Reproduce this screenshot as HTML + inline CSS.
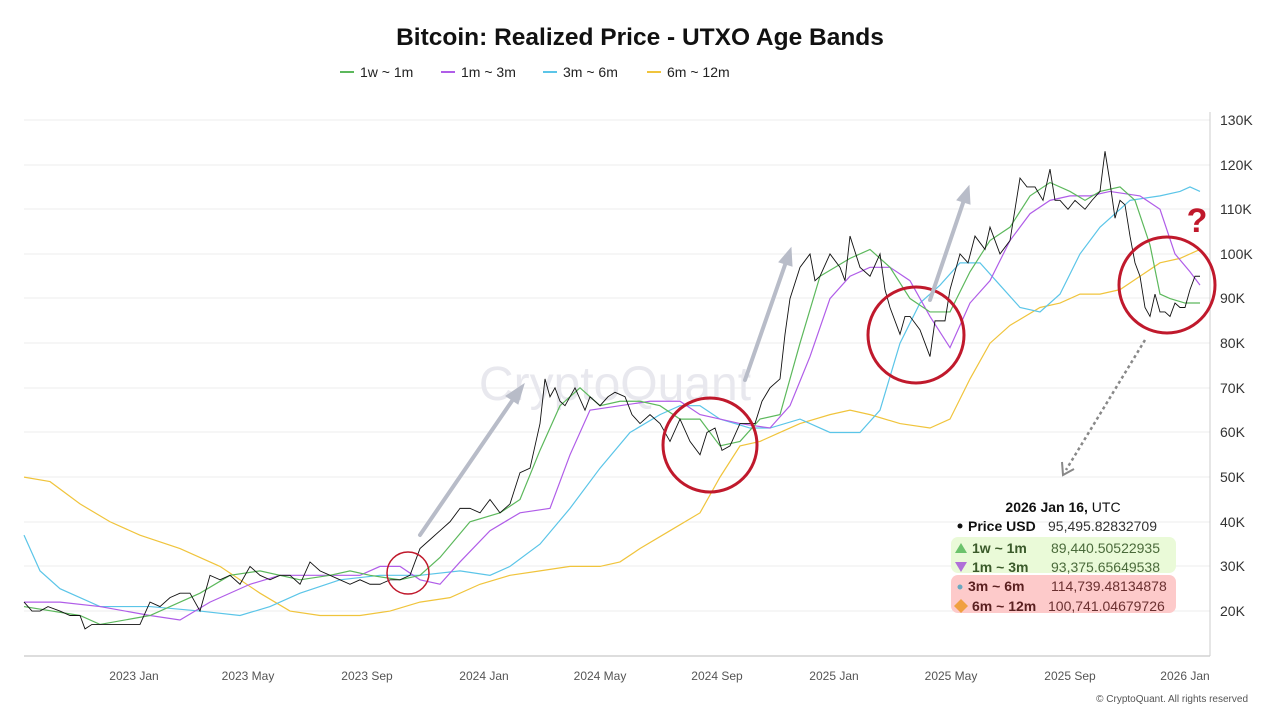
<!DOCTYPE html>
<html><head><meta charset="utf-8"><style>
body{margin:0;width:1280px;height:720px;background:#fff;overflow:hidden;font-family:"Liberation Sans",sans-serif}
</style></head><body>
<svg width="1280" height="720" xmlns="http://www.w3.org/2000/svg" font-family="Liberation Sans, sans-serif">
<text x="640" y="45" text-anchor="middle" font-size="24.5" font-weight="bold" fill="#111">Bitcoin: Realized Price - UTXO Age Bands</text>
<g font-size="14" fill="#222">
<line x1="340" y1="72" x2="354" y2="72" stroke="#5cb85c" stroke-width="2"/><text x="360" y="77">1w ~ 1m</text>
<line x1="441" y1="72" x2="455" y2="72" stroke="#b05de8" stroke-width="2"/><text x="461" y="77">1m ~ 3m</text>
<line x1="543" y1="72" x2="557" y2="72" stroke="#5bc5e8" stroke-width="2"/><text x="563" y="77">3m ~ 6m</text>
<line x1="647" y1="72" x2="661" y2="72" stroke="#f0c43c" stroke-width="2"/><text x="667" y="77">6m ~ 12m</text>
</g>
<g stroke="#eee" stroke-width="1">
<line x1="24" y1="120" x2="1210" y2="120"/><line x1="24" y1="165" x2="1210" y2="165"/><line x1="24" y1="209" x2="1210" y2="209"/><line x1="24" y1="254" x2="1210" y2="254"/><line x1="24" y1="298" x2="1210" y2="298"/><line x1="24" y1="343" x2="1210" y2="343"/><line x1="24" y1="388" x2="1210" y2="388"/><line x1="24" y1="432" x2="1210" y2="432"/><line x1="24" y1="477" x2="1210" y2="477"/><line x1="24" y1="522" x2="1210" y2="522"/><line x1="24" y1="566" x2="1210" y2="566"/><line x1="24" y1="611" x2="1210" y2="611"/>
</g>
<line x1="24" y1="656" x2="1210" y2="656" stroke="#bbb"/>
<line x1="1210" y1="112" x2="1210" y2="656" stroke="#ccc"/>
<g font-size="14" fill="#333">
<text x="1220" y="125">130K</text><text x="1220" y="170">120K</text><text x="1220" y="214">110K</text><text x="1220" y="259">100K</text><text x="1220" y="303">90K</text><text x="1220" y="348">80K</text><text x="1220" y="393">70K</text><text x="1220" y="437">60K</text><text x="1220" y="482">50K</text><text x="1220" y="527">40K</text><text x="1220" y="571">30K</text><text x="1220" y="616">20K</text>
</g>
<g font-size="12" fill="#555" text-anchor="middle">
<text x="134" y="680">2023 Jan</text><text x="248" y="680">2023 May</text><text x="367" y="680">2023 Sep</text><text x="484" y="680">2024 Jan</text><text x="600" y="680">2024 May</text><text x="717" y="680">2024 Sep</text><text x="834" y="680">2025 Jan</text><text x="951" y="680">2025 May</text><text x="1070" y="680">2025 Sep</text><text x="1185" y="680">2026 Jan</text>
</g>
<text x="615" y="400" text-anchor="middle" font-size="48" fill="#e8e8ee">CryptoQuant</text>
<g transform="matrix(1 0 0 -4.464 0 700.32)" fill="none" stroke-width="1.2">
<polyline vector-effect="non-scaling-stroke" stroke="#f0c43c" points="24,50 50,49 80,44 110,40 140,37 180,34 220,30 260,24 290,20 320,19 360,19 390,20 420,22 450,23 480,26 510,28 540,29 570,30 600,30 620,31 640,34 670,38 700,42 720,50 740,57 760,58 780,60 800,62 830,64 850,65 870,64 900,62 930,61 950,63 970,72 990,80 1010,84 1040,88 1060,89 1080,91 1100,91 1120,92 1140,95 1160,98 1180,99 1200,101"/>
<polyline vector-effect="non-scaling-stroke" stroke="#5bc5e8" points="24,37 40,29 60,25 100,21 150,21 200,20 240,19 270,21 300,24 340,27 380,28 420,28 460,29 490,28 510,30 540,35 570,43 600,52 630,60 660,64 680,66 700,66 720,63 750,61 770,61 800,63 830,60 860,60 880,65 900,80 920,89 940,93 960,98 980,98 1000,93 1020,88 1040,87 1060,91 1080,100 1100,106 1130,112 1160,113 1180,114 1190,115 1200,114"/>
<polyline vector-effect="non-scaling-stroke" stroke="#b05de8" points="24,22 60,22 100,21 150,19 180,18 210,22 250,26 280,28 320,28 360,28 380,30 400,30 420,27 440,26 460,31 490,38 520,42 550,43 570,55 590,65 620,66 650,67 680,67 700,64 720,63 740,62 770,61 790,66 810,77 830,90 850,95 870,97 890,97 910,94 930,86 950,79 970,89 990,94 1010,103 1030,109 1050,112 1070,113 1090,113 1110,114 1140,113 1160,110 1175,100 1190,96 1200,93"/>
<polyline vector-effect="non-scaling-stroke" stroke="#5cb85c" points="24,21 80,19 100,17 150,19 200,24 230,28 260,29 300,27 330,28 350,29 370,28 400,27 420,28 440,32 470,40 500,42 520,45 540,56 560,66 580,70 600,66 620,67 640,67 660,66 680,63 700,63 720,57 740,58 760,63 780,64 800,80 820,95 850,99 870,101 890,97 910,90 930,87 950,87 970,96 990,103 1010,106 1030,113 1050,116 1070,114 1085,112 1100,114 1120,115 1135,112 1150,102 1160,91 1170,90 1185,89 1200,89"/>
<polyline vector-effect="non-scaling-stroke" stroke="#111" stroke-width="0.9" points="24,22 32,20 40,20 48,21 60,20 70,19 80,19 85,16 92,17 100,17 120,17 140,17 150,22 160,21 170,23 180,24 190,24 200,20 210,28 220,27 230,28 240,26 250,30 260,28 270,27 280,28 290,28 300,26 310,31 320,29 330,28 340,27 350,26 360,27 370,26 380,26 390,27 400,27 410,28 420,34 430,36 440,38 450,40 460,43 470,43 480,42 490,45 500,42 510,44 520,51 530,52 540,62 545,72 550,68 555,70 560,67 565,66 575,70 585,65 590,68 600,66 608,68 615,69 625,68 632,64 640,62 650,64 660,62 670,58 680,63 690,58 700,55 707,60 715,61 722,56 730,57 740,62 755,62 762,67 770,70 780,72 785,82 790,90 800,97 810,100 815,94 820,95 830,100 840,97 845,94 850,104 860,97 870,95 880,100 885,92 890,88 900,82 905,86 910,86 920,83 925,80 930,77 935,85 945,85 950,92 960,100 968,98 975,104 985,101 990,106 1000,100 1010,103 1015,110 1020,117 1027,115 1035,115 1043,112 1050,119 1055,112 1060,112 1068,110 1075,112 1085,110 1092,112 1100,114 1105,123 1110,116 1115,108 1120,112 1125,111 1130,104 1135,98 1140,95 1145,88 1150,86 1155,91 1160,87 1165,87 1170,86 1175,89 1180,88 1185,88 1190,92 1195,95 1200,95"/>
</g>
<g fill="none" stroke="#c0192c" stroke-width="3">
<circle cx="408" cy="573" r="21" stroke-width="1.5"/>
<circle cx="710" cy="445" r="47"/>
<circle cx="916" cy="335" r="48"/>
<circle cx="1167" cy="285" r="48"/>
</g>
<text x="1197" y="232" text-anchor="middle" font-size="34" font-weight="bold" fill="#c0192c">?</text>
<g stroke="#b8bcc8" stroke-width="4" stroke-linecap="round" fill="#b8bcc8">
<line x1="420" y1="535" x2="514" y2="398"/><polygon points="524,384 506,396 518,404" stroke-width="1"/>
<line x1="745" y1="380" x2="786" y2="262"/><polygon points="791,248 779,262 792,266" stroke-width="1"/>
<line x1="930" y1="300" x2="964" y2="200"/><polygon points="969,186 957,200 970,204" stroke-width="1"/>
</g>
<line x1="1145" y1="340" x2="1066" y2="470" stroke="#888" stroke-width="2.5" stroke-dasharray="3,3"/>
<polyline points="1062,462 1063,475 1074,469" fill="none" stroke="#888" stroke-width="2"/>
<rect x="951" y="537" width="225" height="36" rx="7" fill="#eafad8"/>
<rect x="951" y="575" width="225" height="38" rx="7" fill="#fdcaca"/>
<g font-size="14">
<text x="1063" y="512" text-anchor="middle" fill="#111"><tspan font-weight="bold">2026 Jan 16,</tspan> UTC</text>
<circle cx="960" cy="526" r="2.5" fill="#111"/>
<text x="968" y="531" font-weight="bold" fill="#111">Price USD</text><text x="1048" y="531" fill="#333">95,495.82832709</text>
<polygon points="955,553 961,543 967,553" fill="#6cc36c"/>
<text x="972" y="553" font-weight="bold" fill="#3a5a2a">1w ~ 1m</text><text x="1051" y="553" fill="#4a6a3a">89,440.50522935</text>
<polygon points="955,562 967,562 961,572" fill="#b070d8"/>
<text x="972" y="572" font-weight="bold" fill="#3a5a2a">1m ~ 3m</text><text x="1051" y="572" fill="#4a6a3a">93,375.65649538</text>
<circle cx="960" cy="587" r="2.5" fill="#6aa9c0"/>
<text x="968" y="591" font-weight="bold" fill="#5a2020">3m ~ 6m</text><text x="1051" y="591" fill="#6a3030">114,739.48134878</text>
<polygon points="961,599 968,606 961,613 954,606" fill="#f0a040"/>
<text x="972" y="611" font-weight="bold" fill="#5a2020">6m ~ 12m</text><text x="1048" y="611" fill="#6a3030">100,741.04679726</text>
</g>
<text x="1248" y="702" text-anchor="end" font-size="10" fill="#555">© CryptoQuant. All rights reserved</text>
</svg>
</body></html>
